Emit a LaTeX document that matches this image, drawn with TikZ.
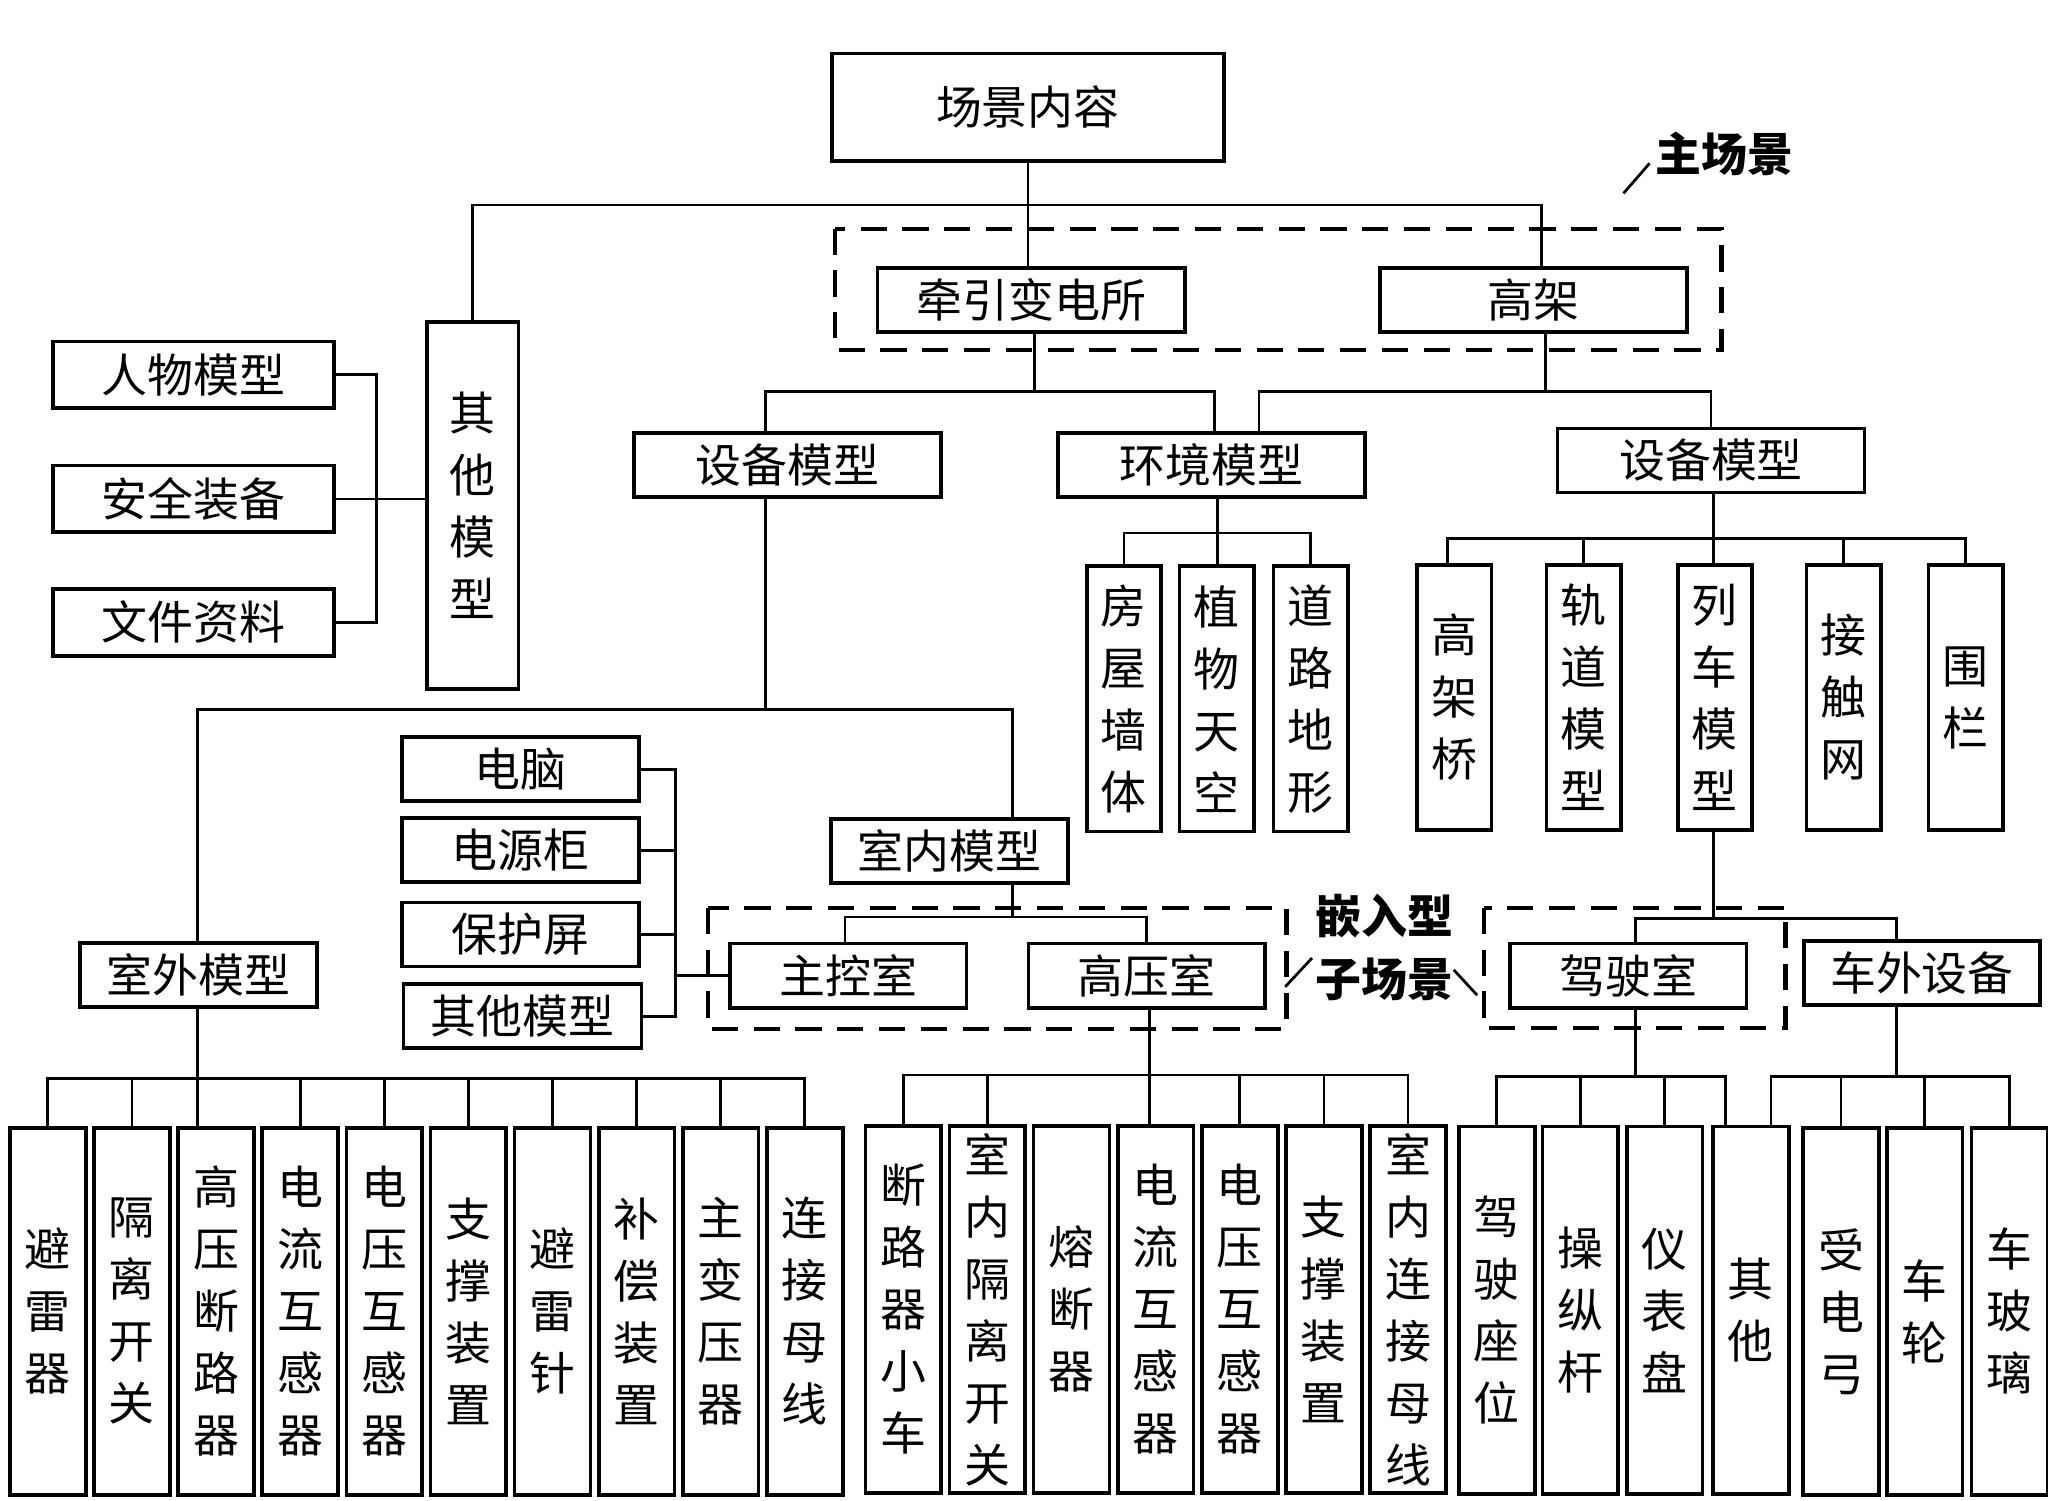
\documentclass[tikz,border=0pt]{standalone}
\usepackage{fontspec}
\usepackage{tikz}
\newfontfamily\cjk{Noto Sans CJK SC}

\tikzset{
  cellbox/.style={draw, line width=0.8pt, inner sep=0pt, align=center,
    font=\cjk\fontsize{10pt}{13.5pt}\selectfont},
  widebox/.style={cellbox, minimum width=2.35cm, minimum height=0.49cm},
  sidebox/.style={cellbox, minimum width=2.15cm, minimum height=0.51cm},
  midbox/.style={cellbox, minimum width=1.81cm, minimum height=0.49cm},
  tallbox/.style={cellbox, minimum width=0.57cm, minimum height=2.03cm},
  leafbox/.style={cellbox, minimum width=0.58cm, minimum height=2.81cm},
  tagtext/.style={inner sep=0pt, font=\cjk\bfseries\fontsize{10pt}{13.5pt}\selectfont},
  wire/.style={line width=0.6pt},
  scenebox/.style={line width=0.9pt, dash pattern=on 5.7pt off 3.4pt},
}

\begin{document}
\begin{tikzpicture}[x=0.01cm, y=-0.01cm]
    \useasboundingbox (0,0) rectangle (1568,1149.2);

    % top levels
    \node[cellbox, minimum width=3cm, minimum height=0.82cm] (root) at (787,82) {场景内容};
    \node[widebox] (qy) at (789.5,229.5) {牵引变电所};
    \node[widebox] (gj) at (1174,229.5) {高架};
    \node[cellbox, minimum width=0.7cm, minimum height=2.81cm] (qt) at (362,387) {其\\他\\模\\型};
    \node[sidebox] (rw) at (148,287) {人物模型};
    \node[sidebox] (aq) at (148,382) {安全装备};
    \node[sidebox] (wj) at (148,476.5) {文件资料};
    \node[widebox] (sbl) at (603,356) {设备模型};
    \node[widebox] (hj) at (927.5,356) {环境模型};
    \node[widebox] (sbr) at (1310,352.5) {设备模型};

    % environment and line models
    \node[tallbox] (fw) at (860.5,535) {房\\屋\\墙\\体};
    \node[tallbox] (zw) at (931.5,535) {植\\物\\天\\空};
    \node[tallbox] (dl) at (1003.5,535) {道\\路\\地\\形};
    \node[tallbox] (gjq) at (1113.5,534) {高\\架\\桥};
    \node[tallbox] (gd) at (1212.5,534) {轨\\道\\模\\型};
    \node[tallbox] (lc) at (1313,534) {列\\车\\模\\型};
    \node[tallbox] (jc) at (1411.5,534) {接\\触\\网};
    \node[tallbox] (wl) at (1505,534) {围\\栏};

    % substation parts
    \node[midbox] (dn) at (398.5,589) {电脑};
    \node[midbox] (dy) at (398.5,651) {电源柜};
    \node[midbox] (bh) at (398.5,715.5) {保护屏};
    \node[midbox, minimum width=1.82cm] (qt2) at (400,778) {其他模型};
    \node[midbox] (sn) at (727,651.5) {室内模型};
    \node[midbox] (sw) at (152,746.5) {室外模型};
    \node[midbox] (zk) at (649.5,747) {主控室};
    \node[midbox] (gy) at (878,747) {高压室};
    \node[midbox] (js) at (1246.5,747) {驾驶室};
    \node[midbox] (cw) at (1471.5,745) {车外设备};

    % outdoor leaves
    \node[leafbox] (o1) at (36.6,1004) {避\\雷\\器};
    \node[leafbox] (o2) at (101,1004) {隔\\离\\开\\关};
    \node[leafbox] (o3) at (165.4,1004) {高\\压\\断\\路\\器};
    \node[leafbox] (o4) at (229.8,1004) {电\\流\\互\\感\\器};
    \node[leafbox] (o5) at (294.2,1004) {电\\压\\互\\感\\器};
    \node[leafbox] (o6) at (358.6,1004) {支\\撑\\装\\置};
    \node[leafbox] (o7) at (423,1004) {避\\雷\\针};
    \node[leafbox] (o8) at (487.4,1004) {补\\偿\\装\\置};
    \node[leafbox] (o9) at (551.8,1004) {主\\变\\压\\器};
    \node[leafbox] (o10) at (616.2,1004) {连\\接\\母\\线};

    % high voltage room leaves
    \node[leafbox] (h1) at (691.6,1002.5) {断\\路\\器\\小\\车};
    \node[leafbox] (h2) at (756,1002.5) {室\\内\\隔\\离\\开\\关};
    \node[leafbox] (h3) at (820.4,1002.5) {熔\\断\\器};
    \node[leafbox] (h4) at (884.8,1002.5) {电\\流\\互\\感\\器};
    \node[leafbox] (h5) at (949.2,1002.5) {电\\压\\互\\感\\器};
    \node[leafbox] (h6) at (1013.6,1002.5) {支\\撑\\装\\置};
    \node[leafbox] (h7) at (1078,1002.5) {室\\内\\连\\接\\母\\线};

    % cab and outside leaves
    \node[leafbox] (c1) at (1146,1003) {驾\\驶\\座\\位};
    \node[leafbox] (c2) at (1210,1003) {操\\纵\\杆};
    \node[leafbox] (c3) at (1274.5,1003) {仪\\表\\盘};
    \node[leafbox] (c4) at (1340.5,1003) {其\\他};
    \node[leafbox] (e1) at (1409.5,1004) {受\\电\\弓};
    \node[leafbox] (e2) at (1473.5,1004) {车\\轮};
    \node[leafbox] (e3) at (1538.5,1004) {车\\玻\\璃};

    % scene frames and tags
    \draw[scenebox] (639,175) rectangle (1318,268);
    \draw[scenebox] (542,695) rectangle (985,788);
    \draw[scenebox] (1136,695) rectangle (1367,787);
    \node[tagtext] (zcj) at (1320,118) {主场景};
    \node[tagtext] (qrx) at (1060,701) {嵌入型};
    \node[tagtext] (zcj2) at (1060,749.5) {子场景};
    \coordinate (m1) at (1263,125);
    \coordinate (m2) at (1243,148);
    \coordinate (m3) at (1004.5,733.5);
    \coordinate (m4) at (984,755.5);
    \coordinate (m5) at (1113,742.5);
    \coordinate (m6) at (1131,762);
    \draw[wire] (m1) -- (m2);
    \draw[wire] (m3) -- (m4);
    \draw[wire] (m5) -- (m6);

    % connectors
    \coordinate (b0) at (787,157);
    \draw[wire] (root.south -| b0) -- (qy.north -| b0);
    \draw[wire] (qt.north) |- (b0);
    \draw[wire] (b0) -| (gj.north -| 1180,0);

    \coordinate (b1) at (792,300);
    \draw[wire] (qy.south -| b1) -- (b1);
    \draw[wire] (b1) -| (sbl.north -| 586,0);
    \draw[wire] (b1) -| (hj.north -| 930,0);
    \coordinate (b2) at (1183,300);
    \draw[wire] (gj.south -| b2) -- (b2);
    \draw[wire] (b2) -| (hj.north -| 964,0);
    \draw[wire] (b2) -| (sbr.north -| 1310,0);

    \coordinate (b3) at (932,408);
    \draw[wire] (hj.south -| b3) -- (b3);
    \draw[wire] (b3) -| (fw.north);
    \draw[wire] (b3) -- (zw.north -| b3);
    \draw[wire] (b3) -| (dl.north);

    \coordinate (b4) at (1312,412);
    \draw[wire] (sbr.south -| b4) -- (b4);
    \draw[wire] (b4) -| (gjq.north -| 1108,0);
    \draw[wire] (b4) -| (gd.north);
    \draw[wire] (b4) -- (lc.north -| b4);
    \draw[wire] (b4) -| (jc.north);
    \draw[wire] (b4) -| (wl.north);

    \coordinate (b5) at (288,382);
    \draw[wire] (rw.east) -| (b5);
    \draw[wire] (wj.east) -| (b5);
    \draw[wire] (aq.east) -- (aq.east -| qt.west);

    \coordinate (b6) at (586,543);
    \draw[wire] (sbl.south -| b6) -- (b6);
    \draw[wire] (b6) -| (sw.north -| 151,0);
    \draw[wire] (b6) -| (sn.north -| 775,0);

    \coordinate (b7) at (775,702);
    \draw[wire] (sn.south -| b7) -- (b7);
    \draw[wire] (b7) -| (zk.north -| 647,0);
    \draw[wire] (b7) -| (gy.north);

    \coordinate (b8) at (517,747);
    \draw[wire] (dn.east) -| (b8);
    \draw[wire] (dy.east) -| (b8);
    \draw[wire] (bh.east) -| (b8);
    \draw[wire] (qt2.east) -| (b8);
    \draw[wire] (b8) -- (zk.west);

    \coordinate (b9) at (151,826);
    \draw[wire] (sw.south -| b9) -- (b9);
    \draw[wire] (b9) -| (o1.north);
    \draw[wire] (b9) -| (o2.north);
    \draw[wire] (b9) -- (o3.north -| b9);
    \draw[wire] (b9) -| (o4.north);
    \draw[wire] (b9) -| (o5.north);
    \draw[wire] (b9) -| (o6.north);
    \draw[wire] (b9) -| (o7.north);
    \draw[wire] (b9) -| (o8.north);
    \draw[wire] (b9) -| (o9.north);
    \draw[wire] (b9) -| (o10.north);

    \coordinate (b10) at (880,823);
    \draw[wire] (gy.south -| b10) -- (b10);
    \draw[wire] (b10) -| (h1.north);
    \draw[wire] (b10) -| (h2.north);
    \draw[wire] (b10) -- (h4.north -| b10);
    \draw[wire] (b10) -| (h5.north);
    \draw[wire] (b10) -| (h6.north);
    \draw[wire] (b10) -| (h7.north);

    \coordinate (b11) at (1312,703);
    \draw[wire] (lc.south -| b11) -- (b11);
    \draw[wire] (b11) -| (js.north -| 1252,0);
    \draw[wire] (b11) -| (cw.north -| 1452,0);

    \coordinate (b12) at (1252,824);
    \draw[wire] (js.south -| b12) -- (b12);
    \draw[wire] (b12) -| (c1.north);
    \draw[wire] (b12) -| (c2.north);
    \draw[wire] (b12) -| (c3.north);
    \draw[wire] (b12) -| (c4.north -| 1321,0);

    \coordinate (b13) at (1452,824);
    \draw[wire] (cw.south -| b13) -- (b13);
    \draw[wire] (b13) -| (c4.north -| 1356,0);
    \draw[wire] (b13) -| (e1.north);
    \draw[wire] (b13) -| (e2.north);
    \draw[wire] (b13) -| (e3.north);
\end{tikzpicture}
\end{document}
